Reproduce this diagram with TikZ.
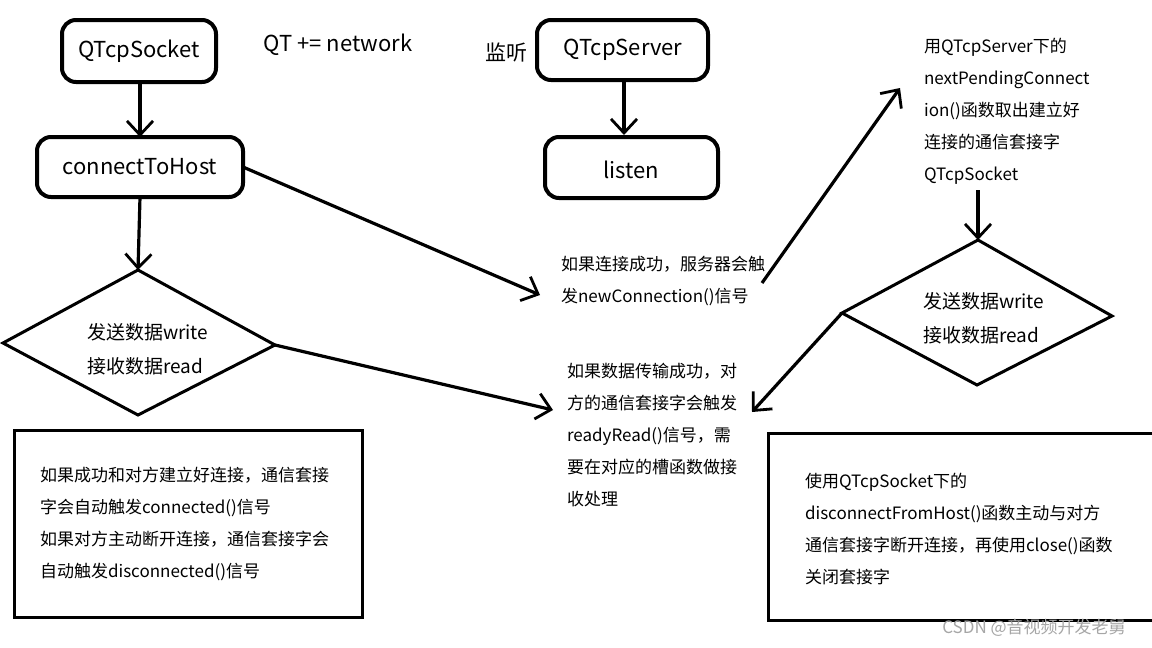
\documentclass[tikz,border=0pt]{standalone}
\usepackage{fontspec}
\setmainfont{Noto Sans CJK SC}
\usetikzlibrary{arrows.meta}
\begin{document}
\begin{tikzpicture}[x=0.5pt,y=-0.5pt,
  box/.style={draw,line width=2pt,rounded corners=7pt,font=\fontsize{11}{13}\selectfont},
  rbox/.style={draw,line width=1.5pt},
  arr/.style={line width=1.6pt,-{Straight Barb[length=7pt,width=13pt,line width=1.4pt]}},
  txt/.style={anchor=west,font=\fontsize{8.5}{16}\selectfont,align=left},
  dtxt/.style={anchor=west,font=\fontsize{9.5}{17}\selectfont,align=left}]
\useasboundingbox (0,0) rectangle (1152,648);
\fill[white] (0,0) rectangle (1152,648);
% left column
\draw[box] (62,20) rectangle (216,82);
\node[font=\fontsize{11}{13}\selectfont] (qs) at (139,51) {QTcpSocket};
\coordinate (qsb) at (140,82);
\draw[box] (37,137) rectangle (243,197);
\node[font=\fontsize{11}{13}\selectfont] (ch) at (140,167) {connectToHost};
\coordinate (cht) at (140,137);
\coordinate (chb) at (140,197);
\coordinate (chr) at (243,167);
\draw[arr] (qsb) -- (cht);
\draw[line width=1.5pt] (138,270) coordinate (d1t) -- (275,345) coordinate (d1r) -- (138,415) -- (3,343) -- cycle;
\draw[arr] (chb) -- (d1t);
\node[dtxt] (d1) at (80,349) {发送数据write\\接收数据read};
\draw[rbox] (14,430) rectangle (362,617);
\node[txt] (b1) at (33,524) {如果成功和对方建立好连接，通信套接\\字会自动触发connected()信号\\如果对方主动断开连接，通信套接字会\\自动触发disconnected()信号};
% top middle
\node[font=\fontsize{11}{13}\selectfont] (qt) at (338,45) {QT += network};
\node[font=\fontsize{10.5}{13}\selectfont] (jt) at (506,53) {监听};
\draw[box] (537,20) rectangle (708,80);
\node[font=\fontsize{11}{13}\selectfont] (srv) at (623,50) {QTcpServer};
\draw[box] (545,137) rectangle (718,198);
\node[font=\fontsize{11}{13}\selectfont] (ls) at (631,170) {listen};
\draw[arr] (624,80) -- (624,135);
% middle texts
\node[txt] (t1) at (554,281) {如果连接成功，服务器会触\\发newConnection()信号};
\draw[arr] (chr) -- (540,295);
\node[txt] (t2) at (560,435) {如果数据传输成功，对\\方的通信套接字会触发\\readyRead()信号，需\\要在对应的槽函数做接\\收处理};
\draw[arr] (d1r) -- (553,410);
% right
\node[txt] (t3) at (917,111) {用QTcpServer下的\\nextPendingConnect\\ion()函数取出建立好\\连接的通信套接字\\QTcpSocket};
\draw[arr] (762,283) -- (900,88);
\draw[line width=1.5pt] (978,240) coordinate (d2t) -- (1112,316) -- (977,385) -- (842,313) coordinate (d2l) -- cycle;
\draw[arr] (978,190) -- (d2t);
\node[dtxt] (d2) at (916,318) {发送数据write\\接收数据read};
\draw[arr] (d2l) -- (752,412);
\draw[rbox] (768,433) rectangle (1172,620);
\node[txt] (b2) at (798,529) {使用QTcpSocket下的\\disconnectFromHost()函数主动与对方\\通信套接字断开连接，再使用close()函数\\关闭套接字};
\node[font=\fontsize{8.5}{10}\selectfont,text=gray!70] (wm) at (1034,628) {CSDN @音视频开发老舅};
\end{tikzpicture}
\end{document}
